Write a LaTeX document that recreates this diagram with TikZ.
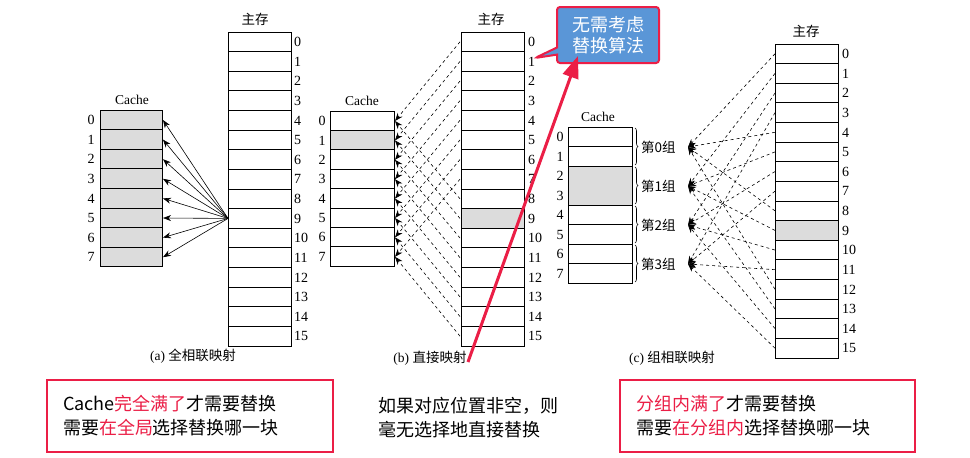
\documentclass[tikz,border=0pt]{standalone}
\usepackage{fontspec}
\setmainfont{Liberation Serif}
\newfontfamily\cjk{Noto Sans CJK SC}
\usetikzlibrary{arrows.meta,decorations.pathreplacing,shapes.callouts}
\definecolor{gr}{RGB}{220,220,220}
\definecolor{rd}{RGB}{235,30,70}
\definecolor{bl}{RGB}{90,150,215}
\tikzset{cell/.style={draw,line width=0.8pt},num/.style={font=\fontsize{14}{14}\selectfont,inner sep=0pt},
 ttl/.style={font=\fontsize{13.5}{14}\selectfont},
 da/.style={dashed,-{Stealth[length=8pt,width=6pt]},line width=0.6pt},
 sa/.style={-{Stealth[length=8pt,width=6pt]},line width=0.6pt},
 note/.style={draw=rd,line width=1.5pt,minimum height=72pt,align=left,text width=254pt,inner xsep=16pt,font=\cjk\fontsize{18}{24}\selectfont}}
\begin{document}
\begin{tikzpicture}[x=1pt,y=-1pt]
\useasboundingbox (0,0) rectangle (970,458);
\fill[white] (0,0) rectangle (970,458);
% ---------- (a)
\foreach \i in {0,...,15}{
 \draw[cell] (228,{32+19.625*\i}) rectangle (291,{32+19.625*(\i+1)});
 \node[num,anchor=west] (ma\i) at (294,{42+19.625*\i}) {\i};
 \coordinate (mal\i) at (228,{41.8+19.625*\i});}
\node[ttl] (ta) at (255,19) {\cjk 主存};
\foreach \i in {0,...,7}{
 \draw[cell,fill=gr] (100,{110+19.6*\i}) rectangle (162,{110+19.6*(\i+1)});
 \node[num] (ca\i) at (91,{120+19.6*\i}) {\i};
 \coordinate (car\i) at (163,{120+19.6*\i});}
\node[ttl] (tca) at (132,100) {Cache};
\foreach \i in {0,...,7}{\draw[sa] (mal9) -- (car\i);}
\node[ttl] (capa) at (193,356) {(a) \cjk 全相联映射};
% ---------- (b)
\foreach \i in {0,...,15}{
 \draw[cell] (461,{32+19.625*\i}) rectangle (524,{32+19.625*(\i+1)});
 \node[num,anchor=west] (mb\i) at (528,{42+19.625*\i}) {\i};
 \coordinate (mbl\i) at (460,{41.8+19.625*\i});}
\draw[cell,fill=gr] (461,{32+19.625*9}) rectangle (524,{32+19.625*10});
\node[ttl] (tb) at (491,19) {\cjk 主存};
\foreach \i in {0,...,7}{
 \draw[cell] (330,{111+19.4*\i}) rectangle (394,{111+19.4*(\i+1)});
 \node[num] (cb\i) at (322,{121+19.4*\i}) {\i};
 \coordinate (cbr\i) at (395,{121+19.4*\i});}
\draw[cell,fill=gr] (330,{111+19.4}) rectangle (394,{111+19.4*2});
\node[ttl] (tcb) at (362,101) {Cache};
\foreach \i in {0,...,15}{\pgfmathtruncatemacro\m{mod(\i,8)}\draw[da] (mbl\i) -- (cbr\m);}
\node[ttl] (capb) at (430,358) {(b) \cjk 直接映射};
% ---------- (c)
\foreach \i in {0,...,15}{
 \draw[cell] (775,{44+19.625*\i}) rectangle (838,{44+19.625*(\i+1)});
 \node[num,anchor=west] (mc\i) at (842,{54+19.625*\i}) {\i};
 \coordinate (mcl\i) at (775,{53.8+19.625*\i});}
\draw[cell,fill=gr] (775,{44+19.625*9}) rectangle (838,{44+19.625*10});
\node[ttl] (tc) at (806,31) {\cjk 主存};
\foreach \i in {0,...,7}{
 \draw[cell] (568,{127+19.5*\i}) rectangle (632,{127+19.5*(\i+1)});
 \node[num] (cc\i) at (560,{137+19.5*\i}) {\i};}
\draw[cell,fill=gr] (568,{127+39}) rectangle (632,{127+78});
\node[ttl] (tcc) at (598,117) {Cache};
\foreach \g in {0,...,3}{
 \draw[decorate,decoration={brace,amplitude=3pt},line width=0.6pt] (635,{128+39*\g}) -- (635,{165+39*\g});
 \node[ttl,anchor=west,inner sep=0pt] (g\g) at (641,{147+39*\g}) {\cjk 第\g 组};
 \coordinate (gr\g) at (688,{147+39*\g});}
\foreach \i in {0,...,15}{\pgfmathtruncatemacro\m{mod(\i,4)}\draw[da] (mcl\i) -- (gr\m);}
\node[ttl] (capc) at (672,358) {(c) \cjk 组相联映射};
% ---------- callout
\node[rectangle callout,rounded corners=3pt,fill=bl,draw=rd,line width=2pt,text=white,align=center,
 font=\cjk\fontsize{18}{21}\selectfont,minimum width=102pt,minimum height=56pt,
 callout absolute pointer={(535,58)}] (co) at (608,35) {无需考虑\\替换算法};
\coordinate (rs) at (468,362);
\draw[rd,line width=3pt,-{Triangle[length=22pt,width=16pt]}] (rs) -- (578,56);
% ---------- notes
\node[note] (n1) at (190,416) {Cache\textcolor{rd}{完全满了}才需要替换\\需要\textcolor{rd}{在全局}选择替换哪一块};
\node[align=left,font=\cjk\fontsize{18}{24}\selectfont] (n2) at (468,418) {如果对应位置非空，则\\毫无选择地直接替换};
\node[note,text width=263pt] (n3) at (767.5,416) {\textcolor{rd}{分组内满了}才需要替换\\需要\textcolor{rd}{在分组内}选择替换哪一块};
\end{tikzpicture}
\end{document}
